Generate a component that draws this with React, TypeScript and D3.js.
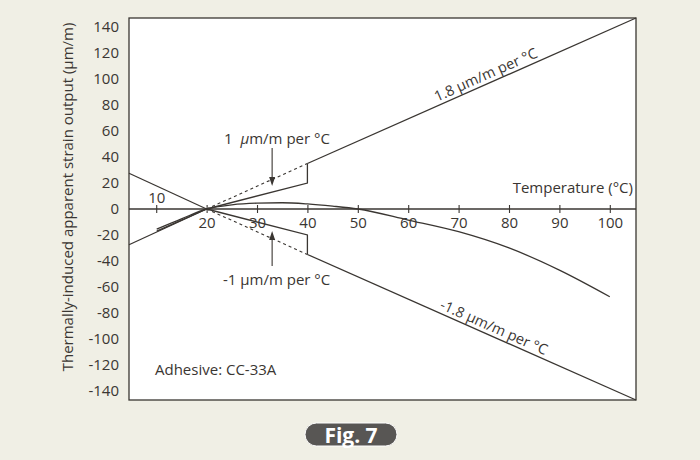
import React, { useEffect, useRef } from 'react';
import * as d3 from 'd3';

const xTicks = [10, 20, 30, 40, 50, 60, 70, 80, 90, 100];
const yTicks = [-140, -120, -100, -80, -60, -40, -20, 0, 20, 40, 60, 80, 100, 120, 140];

// straight segments: [temperature, strain]
const upper18 = [[40, 35], [105.2, 147]];
const lower18 = [[40, -35], [105.2, -147]];
const upper1 = [[20, 0], [40, 20], [40, 35]];
const lower1 = [[20, 0], [40, -20], [40, -35]];
const dashUp = [[20, 0], [40, 35]];
const dashDown = [[20, 0], [40, -35]];
const leftUp = [[4.6, 27.5], [20, 0]];
const leftDown = [[4.6, -27.5], [20, 0]];

// apparent strain curve for CC-33A
const curveA = [
  [10.1, -15.5], [15, -7.6], [20, 0], [25, 3.2], [30, 4.5], [35, 4.8], [40, 3.9],
  [45, 2.2], [50, 0], [60, -8.5], [70, -17.5], [80, -30], [90, -47], [100, -67.5],
];
const curveB = [[10.1, -17], [15, -8.6], [20, 0]];

const font = "'Open Sans', 'DejaVu Sans', sans-serif";
const ink = '#3a3632';

function App() {
  const ref = useRef<any>(null);
  const W = 700;
  const H = 460;
  const box = { left: 129, top: 18, right: 636, bottom: 400 };

  useEffect(() => {
    const svg = d3.select(ref.current);
    svg.selectAll('*').remove();

    const x = d3.scaleLinear().domain([4.6, 105.2]).range([box.left, box.right]);
    const y = d3.scaleLinear().domain([-147, 147]).range([box.bottom, box.top]);

    svg.append('rect').attr('width', W).attr('height', H).attr('fill', '#f0efe5');
    svg
      .append('rect')
      .attr('x', box.left)
      .attr('y', box.top)
      .attr('width', box.right - box.left)
      .attr('height', box.bottom - box.top)
      .attr('fill', '#ffffff')
      .attr('stroke', ink)
      .attr('stroke-width', 1.3);

    // y axis labels only
    const ya = svg
      .append('g')
      .attr('transform', `translate(${box.left},0)`)
      .call(
        d3
          .axisLeft(y)
          .tickValues(yTicks)
          .tickSize(0)
          .tickPadding(10)
          .tickFormat((d: any) => String(d))
      );
    ya.select('.domain').remove();
    ya.selectAll('text').attr('font-family', font).attr('font-size', 15).attr('fill', ink);

    // x axis through zero
    svg
      .append('line')
      .attr('x1', box.left)
      .attr('x2', box.right)
      .attr('y1', y(0))
      .attr('y2', y(0))
      .attr('stroke', ink)
      .attr('stroke-width', 1.3);
    const xa = svg
      .append('g')
      .attr('transform', `translate(0,${y(0)})`)
      .call(d3.axisBottom(x).tickValues(xTicks).tickSize(4).tickPadding(4));
    xa.select('.domain').remove();
    xa.selectAll('line').attr('y1', -4).attr('y2', 4).attr('stroke', ink).attr('stroke-width', 1.1);
    xa.selectAll('text').attr('font-family', font).attr('font-size', 15).attr('fill', ink);
    xa.selectAll('text')
      .filter((d: any) => d === 10)
      .attr('y', -6)
      .attr('dy', '0');

    const line = d3
      .line()
      .x((d: any) => x(d[0]))
      .y((d: any) => y(d[1]));
    const curve = d3
      .line()
      .curve(d3.curveMonotoneX)
      .x((d: any) => x(d[0]))
      .y((d: any) => y(d[1]));

    const solid = [upper18, lower18, upper1, lower1, leftUp, leftDown];
    solid.forEach((s) => {
      svg
        .append('path')
        .datum(s)
        .attr('d', line as any)
        .attr('fill', 'none')
        .attr('stroke', ink)
        .attr('stroke-width', 1.3);
    });
    [dashUp, dashDown].forEach((s) => {
      svg
        .append('path')
        .datum(s)
        .attr('d', line as any)
        .attr('fill', 'none')
        .attr('stroke', ink)
        .attr('stroke-width', 1.1)
        .attr('stroke-dasharray', '3,3');
    });
    [curveA, curveB].forEach((s) => {
      svg
        .append('path')
        .datum(s)
        .attr('d', curve as any)
        .attr('fill', 'none')
        .attr('stroke', ink)
        .attr('stroke-width', 1.3);
    });

    // slanted labels along the 1.8 lines
    const slant = (seg: number[][], tx: number, label: string) => {
      const a = (Math.atan2(y(seg[1][1]) - y(seg[0][1]), x(seg[1][0]) - x(seg[0][0])) * 180) / Math.PI;
      const t = (tx - seg[0][0]) / (seg[1][0] - seg[0][0]);
      const ty = seg[0][1] + t * (seg[1][1] - seg[0][1]);
      svg
        .append('text')
        .attr('transform', `translate(${x(tx)},${y(ty)}) rotate(${a})`)
        .attr('dy', -4)
        .attr('text-anchor', 'middle')
        .attr('font-family', font)
        .attr('font-size', 14.5)
        .attr('fill', ink)
        .text(label);
    };
    slant(upper18, 76.1, '1.8 μm/m per °C');
    slant(lower18, 76.3, '-1.8 μm/m per °C');

    // 1 um/m labels with arrows
    const arrow = (ax: number, from: number, to: number) => {
      svg
        .append('line')
        .attr('x1', x(ax))
        .attr('x2', x(ax))
        .attr('y1', from)
        .attr('y2', to > from ? to - 7 : to + 7)
        .attr('stroke', ink)
        .attr('stroke-width', 1.1);
      const tip = to;
      const base = to > from ? to - 9 : to + 9;
      svg
        .append('path')
        .attr('d', `M${x(ax)},${tip}L${x(ax) - 3},${base}L${x(ax) + 3},${base}Z`)
        .attr('fill', ink);
    };
    arrow(33, 148, 186);
    arrow(33, 266, 231);

    const label = (tx: number, ty: number, s: string, anchor = 'start') =>
      svg
        .append('text')
        .attr('x', tx)
        .attr('y', ty)
        .attr('text-anchor', anchor)
        .attr('font-family', font)
        .attr('font-size', 15)
        .attr('fill', ink)
        .text(s);

    const t1 = label(224, 144, '');
    t1.append('tspan').text('1 ');
    t1.append('tspan').attr('font-style', 'italic').attr('dx', 4).text('μ');
    t1.append('tspan').text('m/m per °C');
    label(223, 285, '-1 μm/m per °C');
    label(633, 193, 'Temperature (°C)', 'end');
    label(155, 375, 'Adhesive: CC-33A');

    svg
      .append('text')
      .attr('transform', `translate(73,197) rotate(-90)`)
      .attr('text-anchor', 'middle')
      .attr('font-family', font)
      .attr('font-size', 15)
      .attr('fill', ink)
      .text('Thermally-induced apparent strain output (μm/m)');

    // figure badge
    svg
      .append('rect')
      .attr('x', 305)
      .attr('y', 423)
      .attr('width', 92)
      .attr('height', 23)
      .attr('rx', 11.5)
      .attr('fill', '#585654')
      .attr('stroke', '#ffffff')
      .attr('stroke-width', 1);
    svg
      .append('text')
      .attr('x', 351)
      .attr('y', 443)
      .attr('text-anchor', 'middle')
      .attr('font-family', font)
      .attr('font-weight', 'bold')
      .attr('font-size', 21)
      .attr('fill', '#ffffff')
      .text('Fig. 7');
  });

  return (
    <div id="chartArea" style={{ position: 'absolute', left: 0, top: 0 }}>
      <svg ref={ref} width={W} height={H} style={{ display: 'block' }}></svg>
    </div>
  );
}

export default App;
